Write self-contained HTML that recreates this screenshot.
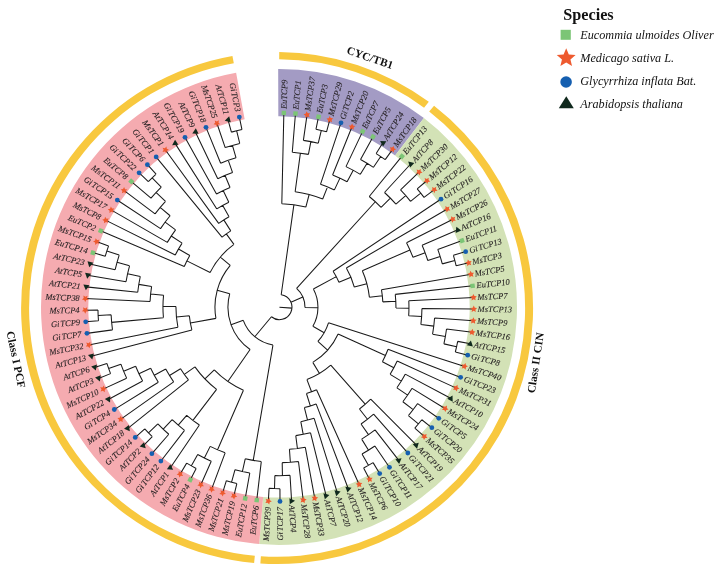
<!DOCTYPE html>
<html><head><meta charset="utf-8"><title>TCP phylogenetic tree</title>
<style>
html,body{margin:0;padding:0;background:#fff;}
body{width:720px;height:572px;overflow:hidden;}
svg{display:block;}
</style></head>
<body>
<svg width="720" height="572" viewBox="0 0 720 572">
<rect width="720" height="572" fill="#fff"/>
<path d="M278.17,68.90A238.0,238.0 0 0 1 423.89,118.08L395.09,155.61A190.7,190.7 0 0 0 278.33,116.20Z" fill="#a39bc4"/>
<path d="M423.89,118.08A238.0,238.0 0 0 1 259.21,544.08L263.14,496.94A190.7,190.7 0 0 0 395.09,155.61Z" fill="#d3e2b6"/>
<path d="M259.21,544.08A238.0,238.0 0 0 1 236.12,72.80L244.64,119.32A190.7,190.7 0 0 0 263.14,496.94Z" fill="#f5abb0"/>
<path d="M279.24,52.06A256.0,256.0 0 0 1 428.80,101.84L424.06,107.72A248.0,248.7 0 0 0 279.18,59.36Z" fill="#f8c83e"/>
<path d="M434.07,105.83A256.0,256.0 0 0 1 260.36,563.50L260.88,556.22A248.0,248.7 0 0 0 429.17,111.59Z" fill="#f8c83e"/>
<path d="M254.12,563.02A256.0,256.0 0 0 1 232.43,55.98L233.82,63.17A248.0,248.7 0 0 0 254.84,555.75Z" fill="#f8c83e"/>
<path d="M281.20,294.77A12.50,12.50 0 1 1 271.44,316.75M281.20,294.77L293.91,204.67M281.80,203.68A103.50,103.50 0 0 1 305.83,207.07M281.80,203.68L283.86,112.70M305.83,207.07L309.14,194.50M295.14,191.71A116.50,116.50 0 0 1 322.70,198.98M295.14,191.71L300.39,153.07M292.28,152.18A155.50,155.50 0 0 1 308.43,154.37M292.28,152.18L295.50,113.31M308.43,154.37L310.86,141.60M303.39,140.36A168.50,168.50 0 0 1 318.26,143.18M303.39,140.36L307.08,114.62M318.26,143.18L321.26,130.53M315.95,129.36A181.50,181.50 0 0 1 326.53,131.86M315.95,129.36L318.56,116.62M326.53,131.86L329.90,119.31M322.70,198.98L327.53,186.91M320.47,184.32A129.50,129.50 0 0 1 334.42,189.90M320.47,184.32L341.06,122.67M334.42,189.90L339.94,178.13M332.60,174.93A142.50,142.50 0 0 1 347.09,181.73M332.60,174.93L352.00,126.69M347.09,181.73L353.26,170.29M345.99,166.61A155.50,155.50 0 0 1 360.34,174.34M345.99,166.61L362.68,131.36M360.34,174.34L367.10,163.24M360.54,159.45A168.50,168.50 0 0 1 373.47,167.32M360.54,159.45L373.06,136.66M373.47,167.32L380.73,156.54M376.17,153.57A181.50,181.50 0 0 1 385.20,159.64M376.17,153.57L383.10,142.57M385.20,159.64L392.77,149.07M290.92,302.17L302.84,296.99M296.61,288.29A25.50,25.50 0 0 1 304.95,307.49M296.61,288.29L375.33,201.73M369.26,196.51A142.50,142.50 0 0 1 381.10,207.28M369.26,196.51L402.03,156.14M381.10,207.28L390.37,198.17M384.51,192.51A155.50,155.50 0 0 1 395.93,204.13M384.51,192.51L410.86,163.75M395.93,204.13L405.67,195.52M400.53,189.96A168.50,168.50 0 0 1 410.56,201.31M400.53,189.96L419.21,171.88M410.56,201.31L420.67,193.14M417.19,188.96A181.50,181.50 0 0 1 424.02,197.42M417.19,188.96L427.06,180.49M424.02,197.42L434.38,189.56M304.95,307.49L317.95,307.66M313.38,288.95A38.50,38.50 0 0 1 312.88,326.24M313.38,288.95L336.29,276.66M333.07,271.30A64.50,64.50 0 0 1 338.97,282.29M333.07,271.30L441.14,199.05M338.97,282.29L350.96,277.29M346.34,268.01A77.50,77.50 0 0 1 354.31,287.09M346.34,268.01L447.33,208.93M354.31,287.09L366.87,283.73M362.33,270.81A90.50,90.50 0 0 1 369.40,297.18M362.33,270.81L409.95,249.92M406.53,242.68A142.50,142.50 0 0 1 412.96,257.34M406.53,242.68L452.91,219.16M412.96,257.34L425.14,252.80M422.09,245.24A155.50,155.50 0 0 1 427.79,260.51M422.09,245.24L457.87,229.71M427.79,260.51L440.19,256.61M437.76,249.44A168.50,168.50 0 0 1 442.30,263.88M437.76,249.44L462.19,240.53M442.30,263.88L454.86,260.54M453.39,255.31A181.50,181.50 0 0 1 456.18,265.82M453.39,255.31L465.85,251.59M456.18,265.82L468.84,262.86M369.40,297.18L382.32,295.75M381.46,289.66A103.50,103.50 0 0 1 382.82,301.88M381.46,289.66L471.15,274.28M382.82,301.88L395.80,301.22M395.25,294.37A116.50,116.50 0 0 1 395.95,308.09M395.25,294.37L472.78,285.82M395.95,308.09L408.95,308.20M408.79,300.68A129.50,129.50 0 0 1 408.67,315.71M408.79,300.68L473.71,297.44M408.67,315.71L421.64,316.57M421.94,308.57A142.50,142.50 0 0 1 420.89,324.54M421.94,308.57L473.94,309.09M420.89,324.54L433.79,326.12M434.57,318.01A155.50,155.50 0 0 1 432.58,334.19M434.57,318.01L473.48,320.73M432.58,334.19L445.38,336.45M446.53,328.96A168.50,168.50 0 0 1 443.90,343.87M446.53,328.96L472.31,332.33M443.90,343.87L456.59,346.71M457.69,341.38A181.50,181.50 0 0 1 455.32,352.00M457.69,341.38L470.46,343.83M455.32,352.00L467.92,355.21M312.88,326.24L324.17,332.69M328.50,322.84A51.50,51.50 0 0 1 317.89,341.42M328.50,322.84L464.70,366.41M317.89,341.42L327.60,350.07M338.12,333.95A64.50,64.50 0 0 1 312.79,362.37M338.12,333.95L385.42,355.56M388.09,349.23A116.50,116.50 0 0 1 382.38,361.72M388.09,349.23L460.82,377.40M382.38,361.72L393.86,367.81M397.19,361.07A129.50,129.50 0 0 1 390.15,374.35M397.19,361.07L456.29,388.13M390.15,374.35L401.26,381.09M405.22,374.14A142.50,142.50 0 0 1 396.92,387.82M405.22,374.14L451.12,398.58M396.92,387.82L407.64,395.17M412.07,388.33A155.50,155.50 0 0 1 402.85,401.77M412.07,388.33L445.34,408.70M402.85,401.77L413.16,409.68M417.64,403.57A168.50,168.50 0 0 1 408.42,415.59M417.64,403.57L438.96,418.45M408.42,415.59L418.37,423.95M421.81,419.74A181.50,181.50 0 0 1 414.81,428.06M421.81,419.74L432.01,427.80M414.81,428.06L424.51,436.72M312.79,362.37L319.50,373.50M330.77,365.22A77.50,77.50 0 0 1 306.94,379.61M330.77,365.22L365.20,404.19M370.69,399.05A129.50,129.50 0 0 1 359.43,409.00M370.69,399.05L416.49,445.18M359.43,409.00L367.46,419.23M373.61,414.11A142.50,142.50 0 0 1 361.03,423.99M373.61,414.11L407.97,453.14M361.03,423.99L368.47,434.65M375.03,429.81A155.50,155.50 0 0 1 361.66,439.14M375.03,429.81L399.00,460.57M361.66,439.14L368.54,450.17M374.87,446.03A168.50,168.50 0 0 1 362.02,454.03M374.87,446.03L389.60,467.46M362.02,454.03L368.39,465.36M373.09,462.63A181.50,181.50 0 0 1 363.61,467.96M373.09,462.63L379.80,473.76M363.61,467.96L369.64,479.48M306.94,379.61L311.55,391.77M316.54,389.70A90.50,90.50 0 0 1 306.44,393.53M316.54,389.70L359.16,484.57M306.44,393.53L310.32,405.94M316.13,403.93A103.50,103.50 0 0 1 304.39,407.60M316.13,403.93L348.39,489.02M304.39,407.60L307.53,420.22M314.14,418.36A116.50,116.50 0 0 1 300.81,421.67M314.14,418.36L337.37,492.83M300.81,421.67L303.20,434.45M310.54,432.86A129.50,129.50 0 0 1 295.77,435.62M310.54,432.86L326.15,495.96M295.77,435.62L297.41,448.51M305.32,447.28A142.50,142.50 0 0 1 289.44,449.30M305.32,447.28L314.76,498.42M289.44,449.30L290.35,462.27M298.47,461.48A155.50,155.50 0 0 1 282.21,462.63M298.47,461.48L303.24,500.19M282.21,462.63L282.44,475.62M290.01,475.32A168.50,168.50 0 0 1 274.87,475.59M290.01,475.32L291.63,501.27M274.87,475.59L274.51,488.58M279.95,488.65A181.50,181.50 0 0 1 269.08,488.35M279.95,488.65L279.99,501.65M269.08,488.35L268.34,501.33M271.44,316.75L254.79,336.72M272.95,345.10A38.50,38.50 0 0 1 243.28,320.35M272.95,345.10L253.21,460.42M261.28,461.59A155.50,155.50 0 0 1 245.22,458.84M261.28,461.59L256.73,500.32M245.22,458.84L242.36,471.52M249.78,473.02A168.50,168.50 0 0 1 235.01,469.68M249.78,473.02L245.20,498.61M235.01,469.68L231.58,482.22M236.85,483.58A181.50,181.50 0 0 1 226.36,480.71M236.85,483.58L233.79,496.22M226.36,480.71L222.55,493.14M243.28,320.35L231.07,324.81M250.09,349.46A51.50,51.50 0 0 1 229.74,293.70M250.09,349.46L227.86,381.51M243.44,390.18A90.50,90.50 0 0 1 214.28,369.95M243.44,390.18L217.58,449.81M225.14,452.86A155.50,155.50 0 0 1 210.18,446.37M225.14,452.86L211.52,489.40M210.18,446.37L204.39,458.01M211.25,461.23A168.50,168.50 0 0 1 197.69,454.49M211.25,461.23L200.72,485.00M197.69,454.49L191.38,465.85M196.18,468.42A181.50,181.50 0 0 1 186.67,463.14M196.18,468.42L190.21,479.97M186.67,463.14L180.02,474.32M214.28,369.95L204.92,378.97M216.59,389.38A103.50,103.50 0 0 1 194.95,366.92M216.59,389.38L192.91,420.36M199.40,425.04A142.50,142.50 0 0 1 186.69,415.32M199.40,425.04L170.19,468.06M186.69,415.32L178.22,425.19M184.55,430.33A155.50,155.50 0 0 1 172.18,419.72M184.55,430.33L160.75,461.23M172.18,419.72L163.21,429.13M168.81,434.23A168.50,168.50 0 0 1 157.85,423.79M168.81,434.23L151.73,453.84M157.85,423.79L148.46,432.79M152.29,436.65A181.50,181.50 0 0 1 144.76,428.81M152.29,436.65L143.18,445.93M144.76,428.81L135.11,437.52M194.95,366.92L184.34,374.43M188.47,379.92A116.50,116.50 0 0 1 180.54,368.71M188.47,379.92L127.56,428.64M180.54,368.71L169.50,375.57M173.66,381.84A129.50,129.50 0 0 1 165.72,369.08M173.66,381.84L120.56,419.33M165.72,369.08L154.30,375.30M158.33,382.22A142.50,142.50 0 0 1 150.67,368.16M158.33,382.22L114.13,409.61M150.67,368.16L138.92,373.73M142.61,381.00A155.50,155.50 0 0 1 135.63,366.27M142.61,381.00L108.29,399.52M135.63,366.27L123.60,371.21M126.64,378.15A168.50,168.50 0 0 1 120.88,364.15M126.64,378.15L103.06,389.11M120.88,364.15L108.65,368.55M110.57,373.63A181.50,181.50 0 0 1 106.89,363.40M110.57,373.63L98.47,378.40M106.89,363.40L94.53,367.43M229.74,293.70L217.19,290.31M215.93,318.37A64.50,64.50 0 0 1 230.25,265.44M215.93,318.37L190.33,322.90M191.88,329.99A90.50,90.50 0 0 1 189.35,315.70M191.88,329.99L91.25,356.25M189.35,315.70L176.41,316.93M177.92,327.23A103.50,103.50 0 0 1 175.95,306.52M177.92,327.23L88.65,344.89M175.95,306.52L162.95,306.44M163.43,317.67A116.50,116.50 0 0 1 163.56,295.23M163.43,317.67L111.64,322.36M112.49,329.88A168.50,168.50 0 0 1 111.12,314.80M112.49,329.88L86.73,333.39M111.12,314.80L98.14,315.40M98.47,320.82A181.50,181.50 0 0 1 97.97,309.96M98.47,320.82L85.50,321.80M97.97,309.96L84.97,310.16M163.56,295.23L150.63,293.90M150.08,301.40A129.50,129.50 0 0 1 151.62,286.45M150.08,301.40L85.14,298.51M151.62,286.45L138.78,284.37M137.73,292.30A142.50,142.50 0 0 1 140.28,276.51M137.73,292.30L86.01,286.89M140.28,276.51L127.59,273.71M126.04,281.72A155.50,155.50 0 0 1 129.55,265.80M126.04,281.72L87.57,275.34M129.55,265.80L117.02,262.34M115.17,269.68A168.50,168.50 0 0 1 119.19,255.09M115.17,269.68L89.82,263.90M119.19,255.09L106.83,251.07M105.23,256.27A181.50,181.50 0 0 1 108.59,245.93M105.23,256.27L92.75,252.62M108.59,245.93L96.35,241.54M230.25,265.44L220.34,257.03M210.13,272.50A77.50,77.50 0 0 1 233.94,244.42M210.13,272.50L186.87,260.88M184.28,266.46A103.50,103.50 0 0 1 189.78,255.46M184.28,266.46L100.61,230.69M189.78,255.46L178.52,248.97M175.26,255.02A116.50,116.50 0 0 1 182.12,243.12M175.26,255.02L105.51,220.12M182.12,243.12L171.26,235.97M167.32,242.37A129.50,129.50 0 0 1 175.58,229.82M167.32,242.37L111.03,209.86M175.58,229.82L165.15,222.05M160.55,228.61A142.50,142.50 0 0 1 170.11,215.77M160.55,228.61L117.16,199.95M170.11,215.77L160.13,207.43M155.07,213.82A155.50,155.50 0 0 1 165.52,201.32M155.07,213.82L123.87,190.42M165.52,201.32L156.00,192.47M150.97,198.13A168.50,168.50 0 0 1 161.27,187.04M150.97,198.13L131.14,181.31M161.27,187.04L152.16,177.77M148.34,181.64A181.50,181.50 0 0 1 156.09,174.02M148.34,181.64L138.95,172.65M156.09,174.02L147.25,164.48M233.94,244.42L226.30,233.90M222.03,237.20A90.50,90.50 0 0 1 230.77,230.86M222.03,237.20L156.04,156.82M230.77,230.86L223.77,219.90M218.69,223.36A103.50,103.50 0 0 1 229.05,216.75M218.69,223.36L165.26,149.70M229.05,216.75L222.73,205.39M216.82,208.91A116.50,116.50 0 0 1 228.82,202.23M216.82,208.91L174.90,143.14M228.82,202.23L223.17,190.52M216.50,193.98A129.50,129.50 0 0 1 230.04,187.45M216.50,193.98L184.91,137.17M230.04,187.45L225.07,175.43M217.76,178.69A142.50,142.50 0 0 1 232.56,172.59M217.76,178.69L195.25,131.82M232.56,172.59L228.28,160.31M220.65,163.19A155.50,155.50 0 0 1 236.05,157.83M220.65,163.19L205.91,127.09M236.05,157.83L232.42,145.35M225.19,147.62A168.50,168.50 0 0 1 239.73,143.40M225.19,147.62L216.82,123.01M239.73,143.40L236.67,130.76M231.40,132.12A181.50,181.50 0 0 1 241.97,129.56M231.40,132.12L227.96,119.59M241.97,129.56L239.29,116.84M279.45,307.15L291.91,308.13" fill="none" stroke="#1a1a1a" stroke-width="1.05"/>
<rect x="-2.20" y="-2.20" width="4.4" height="4.4" fill="#7cc576" transform="translate(283.86,112.90) rotate(1.3)"/>
<rect x="-2.20" y="-2.20" width="4.4" height="4.4" fill="#7cc576" transform="translate(295.48,113.51) rotate(4.7)"/>
<path d="M303.59,114.32L305.80,113.60L306.45,111.37L307.82,113.25L310.15,113.19L308.78,115.07L309.56,117.26L307.35,116.54L305.51,117.96L305.50,115.64Z" fill="#ee5a2f"/>
<rect x="-2.20" y="-2.20" width="4.4" height="4.4" fill="#7cc576" transform="translate(318.52,116.82) rotate(11.6)"/>
<path d="M326.47,118.59L328.75,118.14L329.67,116.01L330.80,118.03L333.12,118.25L331.54,119.95L332.05,122.22L329.94,121.25L327.94,122.43L328.22,120.13Z" fill="#ee5a2f"/>
<circle cx="341.00" cy="122.86" r="2.4" fill="#155fb0"/>
<path d="M348.68,125.57L350.99,125.39L352.16,123.38L353.05,125.53L355.32,126.02L353.55,127.53L353.78,129.84L351.81,128.62L349.68,129.56L350.23,127.30Z" fill="#ee5a2f"/>
<rect x="-2.20" y="-2.20" width="4.4" height="4.4" fill="#7cc576" transform="translate(362.59,131.54) rotate(25.3)"/>
<rect x="-2.20" y="-2.20" width="4.4" height="4.4" fill="#7cc576" transform="translate(372.96,136.83) rotate(28.8)"/>
<path d="M0,-3.40L3.06,2.04L-3.06,2.04Z" fill="#10291d" transform="translate(382.99,142.74) rotate(-57.8)"/>
<path d="M389.81,147.19L392.10,147.57L393.71,145.90L394.06,148.20L396.15,149.21L394.08,150.25L393.76,152.56L392.12,150.90L389.83,151.31L390.90,149.24Z" fill="#ee5a2f"/>
<rect x="-2.20" y="-2.20" width="4.4" height="4.4" fill="#7cc576" transform="translate(401.91,156.30) rotate(39.1)"/>
<path d="M0,-3.40L3.06,2.04L-3.06,2.04Z" fill="#10291d" transform="translate(410.72,163.90) rotate(-47.5)"/>
<path d="M416.63,169.51L418.82,170.29L420.71,168.93L420.64,171.25L422.51,172.62L420.28,173.28L419.56,175.49L418.25,173.57L415.92,173.56L417.34,171.72Z" fill="#ee5a2f"/>
<path d="M424.63,177.97L426.77,178.88L428.73,177.64L428.52,179.95L430.31,181.43L428.05,181.95L427.19,184.11L426.00,182.12L423.68,181.97L425.21,180.22Z" fill="#ee5a2f"/>
<path d="M432.10,186.90L434.18,187.93L436.22,186.81L435.87,189.11L437.57,190.69L435.28,191.08L434.29,193.18L433.22,191.12L430.92,190.83L432.55,189.18Z" fill="#ee5a2f"/>
<circle cx="440.98" cy="199.16" r="2.4" fill="#155fb0"/>
<path d="M445.39,206.01L447.33,207.29L449.48,206.42L448.87,208.66L450.36,210.44L448.04,210.54L446.81,212.51L445.99,210.34L443.74,209.78L445.55,208.33Z" fill="#ee5a2f"/>
<path d="M451.15,216.13L453.01,217.52L455.21,216.78L454.46,218.98L455.85,220.85L453.52,220.81L452.18,222.71L451.49,220.49L449.27,219.79L451.17,218.45Z" fill="#ee5a2f"/>
<path d="M0,-3.40L3.06,2.04L-3.06,2.04Z" fill="#10291d" transform="translate(457.68,229.79) rotate(-23.5)"/>
<rect x="-2.20" y="-2.20" width="4.4" height="4.4" fill="#7cc576" transform="translate(462.00,240.60) rotate(70.0)"/>
<circle cx="465.66" cy="251.65" r="2.4" fill="#155fb0"/>
<path d="M467.85,259.50L469.32,261.29L471.64,261.09L470.39,263.05L471.29,265.19L469.04,264.61L467.29,266.13L467.15,263.81L465.16,262.61L467.32,261.76Z" fill="#ee5a2f"/>
<path d="M470.36,270.86L471.73,272.74L474.05,272.69L472.69,274.57L473.46,276.76L471.25,276.04L469.41,277.45L469.41,275.13L467.49,273.81L469.70,273.09Z" fill="#ee5a2f"/>
<rect x="-2.20" y="-2.20" width="4.4" height="4.4" fill="#7cc576" transform="translate(472.58,285.84) rotate(83.7)"/>
<path d="M473.33,293.95L474.46,295.98L476.78,296.20L475.20,297.90L475.70,300.17L473.59,299.19L471.59,300.38L471.87,298.07L470.13,296.53L472.41,296.08Z" fill="#ee5a2f"/>
<path d="M473.78,305.59L474.78,307.68L477.08,308.04L475.40,309.64L475.77,311.94L473.72,310.84L471.65,311.90L472.07,309.61L470.42,307.97L472.73,307.66Z" fill="#ee5a2f"/>
<path d="M473.52,317.23L474.40,319.38L476.67,319.87L474.90,321.37L475.13,323.69L473.15,322.46L471.03,323.40L471.58,321.14L470.03,319.41L472.35,319.23Z" fill="#ee5a2f"/>
<path d="M472.57,328.83L473.32,331.03L475.56,331.66L473.70,333.05L473.79,335.38L471.89,334.04L469.71,334.84L470.39,332.62L468.95,330.80L471.28,330.77Z" fill="#ee5a2f"/>
<path d="M0,-3.40L3.06,2.04L-3.06,2.04Z" fill="#10291d" transform="translate(470.26,343.80) rotate(10.9)"/>
<circle cx="467.73" cy="355.16" r="2.4" fill="#155fb0"/>
<path d="M465.58,363.01L465.92,365.31L468.01,366.33L465.93,367.37L465.61,369.67L463.98,368.01L461.69,368.42L462.76,366.36L461.67,364.30L463.96,364.69Z" fill="#ee5a2f"/>
<circle cx="460.63" cy="377.33" r="2.4" fill="#155fb0"/>
<path d="M457.56,384.87L457.63,387.19L459.58,388.45L457.39,389.23L456.80,391.48L455.38,389.64L453.06,389.77L454.37,387.85L453.53,385.68L455.76,386.33Z" fill="#ee5a2f"/>
<path d="M0,-3.40L3.06,2.04L-3.06,2.04Z" fill="#10291d" transform="translate(450.94,398.49) rotate(28.0)"/>
<path d="M446.99,405.61L446.78,407.92L448.57,409.41L446.30,409.92L445.44,412.08L444.25,410.08L441.93,409.93L443.46,408.18L442.89,405.93L445.03,406.85Z" fill="#ee5a2f"/>
<circle cx="438.79" cy="418.33" r="2.4" fill="#155fb0"/>
<circle cx="431.85" cy="427.68" r="2.4" fill="#155fb0"/>
<path d="M426.69,433.98L426.07,436.22L427.56,438.00L425.24,438.10L424.00,440.07L423.19,437.89L420.94,437.33L422.76,435.88L422.60,433.56L424.53,434.85Z" fill="#ee5a2f"/>
<path d="M0,-3.40L3.06,2.04L-3.06,2.04Z" fill="#10291d" transform="translate(416.34,445.04) rotate(45.2)"/>
<circle cx="407.84" cy="452.99" r="2.4" fill="#155fb0"/>
<path d="M0,-3.40L3.06,2.04L-3.06,2.04Z" fill="#10291d" transform="translate(398.88,460.41) rotate(52.1)"/>
<circle cx="389.48" cy="467.29" r="2.4" fill="#155fb0"/>
<circle cx="379.69" cy="473.59" r="2.4" fill="#155fb0"/>
<path d="M372.65,477.68L371.28,479.55L372.05,481.75L369.84,481.02L367.99,482.43L368.00,480.11L366.08,478.79L368.30,478.07L368.96,475.85L370.32,477.73Z" fill="#ee5a2f"/>
<path d="M362.27,482.95L360.79,484.74L361.43,486.98L359.26,486.13L357.34,487.42L357.48,485.10L355.65,483.67L357.90,483.09L358.70,480.91L359.94,482.87Z" fill="#ee5a2f"/>
<path d="M0,-3.40L3.06,2.04L-3.06,2.04Z" fill="#10291d" transform="translate(348.32,488.84) rotate(69.2)"/>
<path d="M0,-3.40L3.06,2.04L-3.06,2.04Z" fill="#10291d" transform="translate(337.31,492.63) rotate(72.7)"/>
<path d="M0,-3.40L3.06,2.04L-3.06,2.04Z" fill="#10291d" transform="translate(326.10,495.77) rotate(76.1)"/>
<path d="M318.16,497.59L316.30,498.98L316.39,501.30L314.49,499.96L312.31,500.76L313.00,498.54L311.56,496.71L313.89,496.68L315.18,494.75L315.93,496.95Z" fill="#ee5a2f"/>
<path d="M306.69,499.56L304.74,500.84L304.69,503.16L302.88,501.71L300.65,502.38L301.48,500.21L300.15,498.30L302.47,498.41L303.88,496.56L304.49,498.80Z" fill="#ee5a2f"/>
<path d="M0,-3.40L3.06,2.04L-3.06,2.04Z" fill="#10291d" transform="translate(291.62,501.07) rotate(86.4)"/>
<circle cx="279.99" cy="501.45" r="2.4" fill="#155fb0"/>
<path d="M271.84,501.33L269.70,502.24L269.24,504.52L267.71,502.76L265.40,503.02L266.60,501.03L265.64,498.92L267.90,499.44L269.62,497.87L269.82,500.19Z" fill="#ee5a2f"/>
<rect x="-2.20" y="-2.20" width="4.4" height="4.4" fill="#7cc576" transform="translate(256.75,500.12) rotate(186.7)"/>
<rect x="-2.20" y="-2.20" width="4.4" height="4.4" fill="#7cc576" transform="translate(245.23,498.41) rotate(190.1)"/>
<path d="M237.24,496.84L234.98,497.35L234.11,499.51L232.92,497.51L230.61,497.36L232.14,495.61L231.57,493.36L233.71,494.28L235.67,493.04L235.46,495.35Z" fill="#ee5a2f"/>
<path d="M225.96,493.97L223.66,494.35L222.67,496.45L221.61,494.38L219.30,494.09L220.94,492.44L220.51,490.16L222.58,491.20L224.62,490.08L224.27,492.38Z" fill="#ee5a2f"/>
<path d="M214.87,490.44L212.55,490.67L211.44,492.71L210.50,490.58L208.21,490.15L209.95,488.60L209.65,486.30L211.66,487.46L213.76,486.47L213.27,488.74Z" fill="#ee5a2f"/>
<path d="M204.00,486.24L201.68,486.34L200.45,488.30L199.64,486.12L197.38,485.56L199.20,484.11L199.05,481.79L200.98,483.08L203.14,482.22L202.51,484.45Z" fill="#ee5a2f"/>
<rect x="-2.20" y="-2.20" width="4.4" height="4.4" fill="#7cc576" transform="translate(190.30,479.79) rotate(207.3)"/>
<path d="M183.13,475.93L180.82,475.75L179.35,477.56L178.81,475.30L176.64,474.46L178.62,473.25L178.74,470.93L180.51,472.44L182.76,471.84L181.87,473.98Z" fill="#ee5a2f"/>
<path d="M0,-3.40L3.06,2.04L-3.06,2.04Z" fill="#10291d" transform="translate(170.30,467.90) rotate(124.2)"/>
<circle cx="160.87" cy="461.07" r="2.4" fill="#155fb0"/>
<circle cx="151.87" cy="453.69" r="2.4" fill="#155fb0"/>
<path d="M0,-3.40L3.06,2.04L-3.06,2.04Z" fill="#10291d" transform="translate(143.32,445.79) rotate(134.5)"/>
<circle cx="135.26" cy="437.39" r="2.4" fill="#155fb0"/>
<path d="M0,-3.40L3.06,2.04L-3.06,2.04Z" fill="#10291d" transform="translate(127.72,428.52) rotate(141.3)"/>
<path d="M122.74,422.07L120.70,420.96L118.63,422.02L119.05,419.73L117.41,418.09L119.71,417.78L120.77,415.71L121.77,417.81L124.06,418.18L122.38,419.78Z" fill="#ee5a2f"/>
<circle cx="114.30" cy="409.50" r="2.4" fill="#155fb0"/>
<path d="M0,-3.40L3.06,2.04L-3.06,2.04Z" fill="#10291d" transform="translate(108.46,399.43) rotate(151.6)"/>
<path d="M104.72,392.20L102.91,390.74L100.68,391.41L101.50,389.23L100.18,387.32L102.50,387.44L103.91,385.59L104.52,387.83L106.72,388.60L104.77,389.87Z" fill="#ee5a2f"/>
<path d="M0,-3.40L3.06,2.04L-3.06,2.04Z" fill="#10291d" transform="translate(98.65,378.32) rotate(158.5)"/>
<path d="M0,-3.40L3.06,2.04L-3.06,2.04Z" fill="#10291d" transform="translate(94.72,367.37) rotate(161.9)"/>
<path d="M0,-3.40L3.06,2.04L-3.06,2.04Z" fill="#10291d" transform="translate(91.44,356.20) rotate(165.4)"/>
<path d="M89.52,348.28L88.11,346.44L85.79,346.55L87.10,344.64L86.27,342.47L88.50,343.13L90.31,341.67L90.37,343.99L92.32,345.26L90.13,346.04Z" fill="#ee5a2f"/>
<circle cx="86.93" cy="333.36" r="2.4" fill="#155fb0"/>
<circle cx="85.70" cy="321.79" r="2.4" fill="#155fb0"/>
<path d="M85.23,313.66L84.17,311.59L81.86,311.29L83.50,309.64L83.07,307.36L85.15,308.41L87.19,307.29L86.83,309.59L88.52,311.19L86.22,311.56Z" fill="#ee5a2f"/>
<path d="M85.19,302.01L84.25,299.89L81.97,299.45L83.70,297.90L83.41,295.60L85.42,296.77L87.52,295.78L87.03,298.05L88.62,299.75L86.31,299.98Z" fill="#ee5a2f"/>
<path d="M0,-3.40L3.06,2.04L-3.06,2.04Z" fill="#10291d" transform="translate(86.21,286.91) rotate(186.0)"/>
<path d="M0,-3.40L3.06,2.04L-3.06,2.04Z" fill="#10291d" transform="translate(87.77,275.37) rotate(189.4)"/>
<path d="M0,-3.40L3.06,2.04L-3.06,2.04Z" fill="#10291d" transform="translate(90.01,263.95) rotate(192.8)"/>
<rect x="-2.20" y="-2.20" width="4.4" height="4.4" fill="#7cc576" transform="translate(92.94,252.68) rotate(286.3)"/>
<path d="M95.36,244.90L95.09,242.59L93.04,241.50L95.15,240.54L95.56,238.25L97.13,239.96L99.43,239.64L98.29,241.66L99.31,243.75L97.03,243.29Z" fill="#ee5a2f"/>
<rect x="-2.20" y="-2.20" width="4.4" height="4.4" fill="#7cc576" transform="translate(100.79,230.77) rotate(293.1)"/>
<path d="M104.12,223.34L104.13,221.01L102.23,219.69L104.44,218.98L105.11,216.76L106.47,218.64L108.79,218.60L107.42,220.47L108.18,222.66L105.97,221.93Z" fill="#ee5a2f"/>
<path d="M109.46,212.99L109.61,210.67L107.78,209.23L110.04,208.66L110.84,206.48L112.08,208.44L114.40,208.53L112.92,210.32L113.55,212.56L111.39,211.70Z" fill="#ee5a2f"/>
<circle cx="117.33" cy="200.06" r="2.4" fill="#155fb0"/>
<path d="M121.93,193.34L122.36,191.05L120.72,189.41L123.03,189.11L124.09,187.04L125.08,189.14L127.38,189.51L125.69,191.10L126.05,193.40L124.01,192.29Z" fill="#ee5a2f"/>
<rect x="-2.20" y="-2.20" width="4.4" height="4.4" fill="#7cc576" transform="translate(131.30,181.44) rotate(310.3)"/>
<circle cx="139.09" cy="172.79" r="2.4" fill="#155fb0"/>
<circle cx="147.39" cy="164.63" r="2.4" fill="#155fb0"/>
<circle cx="156.16" cy="156.97" r="2.4" fill="#155fb0"/>
<path d="M162.54,151.92L163.63,149.86L162.55,147.80L164.84,148.20L166.46,146.53L166.79,148.83L168.88,149.86L166.79,150.89L166.46,153.19L164.84,151.52Z" fill="#ee5a2f"/>
<path d="M0,-3.40L3.06,2.04L-3.06,2.04Z" fill="#10291d" transform="translate(175.00,143.31) rotate(237.5)"/>
<circle cx="185.00" cy="137.35" r="2.4" fill="#155fb0"/>
<path d="M0,-3.40L3.06,2.04L-3.06,2.04Z" fill="#10291d" transform="translate(195.34,132.00) rotate(244.3)"/>
<circle cx="205.98" cy="127.28" r="2.4" fill="#155fb0"/>
<path d="M213.57,124.32L215.22,122.68L214.79,120.39L216.86,121.45L218.91,120.34L218.54,122.63L220.23,124.23L217.93,124.60L216.93,126.70L215.88,124.63Z" fill="#ee5a2f"/>
<path d="M0,-3.40L3.06,2.04L-3.06,2.04Z" fill="#10291d" transform="translate(228.02,119.78) rotate(254.7)"/>
<circle cx="239.33" cy="117.04" r="2.4" fill="#155fb0"/>
<g font-family="'Liberation Serif', serif" font-style="italic" font-size="8.5" fill="#231f20" stroke="#231f20" stroke-width="0.1"><text x="283.95" y="109.00" transform="rotate(-88.70 283.95 109.00)" text-anchor="start" dy="0.33em">EuTCP9</text><text x="295.81" y="109.63" transform="rotate(-85.27 295.81 109.63)" text-anchor="start" dy="0.33em">EuTCP1</text><text x="307.61" y="110.96" transform="rotate(-81.83 307.61 110.96)" text-anchor="start" dy="0.33em">MsTCP37</text><text x="319.31" y="113.00" transform="rotate(-78.40 319.31 113.00)" text-anchor="start" dy="0.33em">EuTCP3</text><text x="330.86" y="115.73" transform="rotate(-74.97 330.86 115.73)" text-anchor="start" dy="0.33em">MsTCP29</text><text x="342.23" y="119.16" transform="rotate(-71.53 342.23 119.16)" text-anchor="start" dy="0.33em">Gi<tspan dx="0.9">TCP2</tspan></text><text x="353.38" y="123.25" transform="rotate(-68.10 353.38 123.25)" text-anchor="start" dy="0.33em">MsTCP20</text><text x="364.26" y="128.01" transform="rotate(-64.67 364.26 128.01)" text-anchor="start" dy="0.33em">EuTCP7</text><text x="374.84" y="133.41" transform="rotate(-61.23 374.84 133.41)" text-anchor="start" dy="0.33em">EuTCP5</text><text x="385.07" y="139.44" transform="rotate(-57.80 385.07 139.44)" text-anchor="start" dy="0.33em">AtTCP24</text><text x="394.93" y="146.06" transform="rotate(-54.37 394.93 146.06)" text-anchor="start" dy="0.33em">MsTCP18</text><text x="404.37" y="153.27" transform="rotate(-50.93 404.37 153.27)" text-anchor="start" dy="0.33em">EuTCP13</text><text x="413.36" y="161.03" transform="rotate(-47.50 413.36 161.03)" text-anchor="start" dy="0.33em">AtTCP8</text><text x="421.87" y="169.31" transform="rotate(-44.06 421.87 169.31)" text-anchor="start" dy="0.33em">MsTCP30</text><text x="429.87" y="178.09" transform="rotate(-40.63 429.87 178.09)" text-anchor="start" dy="0.33em">MsTCP12</text><text x="437.33" y="187.33" transform="rotate(-37.20 437.33 187.33)" text-anchor="start" dy="0.33em">MsTCP22</text><text x="444.22" y="197.00" transform="rotate(-33.76 444.22 197.00)" text-anchor="start" dy="0.33em">Gi<tspan dx="0.9">TCP16</tspan></text><text x="450.52" y="207.06" transform="rotate(-30.33 450.52 207.06)" text-anchor="start" dy="0.33em">MsTCP27</text><text x="456.21" y="217.49" transform="rotate(-26.90 456.21 217.49)" text-anchor="start" dy="0.33em">MsTCP26</text><text x="461.26" y="228.23" transform="rotate(-23.46 461.26 228.23)" text-anchor="start" dy="0.33em">AtTCP16</text><text x="465.66" y="239.26" transform="rotate(-20.03 465.66 239.26)" text-anchor="start" dy="0.33em">EuTCP11</text><text x="469.39" y="250.54" transform="rotate(-16.60 469.39 250.54)" text-anchor="start" dy="0.33em">Gi<tspan dx="0.9">TCP13</tspan></text><text x="472.44" y="262.02" transform="rotate(-13.16 472.44 262.02)" text-anchor="start" dy="0.33em">MsTCP3</text><text x="474.80" y="273.65" transform="rotate(-9.73 474.80 273.65)" text-anchor="start" dy="0.33em">MsTCP5</text><text x="476.45" y="285.41" transform="rotate(-6.30 476.45 285.41)" text-anchor="start" dy="0.33em">EuTCP10</text><text x="477.40" y="297.25" transform="rotate(-2.86 477.40 297.25)" text-anchor="start" dy="0.33em">MsTCP7</text><text x="477.64" y="309.13" transform="rotate(0.57 477.64 309.13)" text-anchor="start" dy="0.33em">MsTCP13</text><text x="477.17" y="320.99" transform="rotate(4.00 477.17 320.99)" text-anchor="start" dy="0.33em">MsTCP9</text><text x="475.98" y="332.81" transform="rotate(7.44 475.98 332.81)" text-anchor="start" dy="0.33em">MsTCP16</text><text x="474.09" y="344.53" transform="rotate(10.87 474.09 344.53)" text-anchor="start" dy="0.33em">AtTCP15</text><text x="471.50" y="356.12" transform="rotate(14.30 471.50 356.12)" text-anchor="start" dy="0.33em">Gi<tspan dx="0.9">TCP8</tspan></text><text x="468.23" y="367.54" transform="rotate(17.74 468.23 367.54)" text-anchor="start" dy="0.33em">MsTCP40</text><text x="464.27" y="378.73" transform="rotate(21.17 464.27 378.73)" text-anchor="start" dy="0.33em">Gi<tspan dx="0.9">TCP23</tspan></text><text x="459.65" y="389.67" transform="rotate(24.61 459.65 389.67)" text-anchor="start" dy="0.33em">MsTCP31</text><text x="454.39" y="400.32" transform="rotate(28.04 454.39 400.32)" text-anchor="start" dy="0.33em">AtTCP10</text><text x="448.49" y="410.63" transform="rotate(31.47 448.49 410.63)" text-anchor="start" dy="0.33em">MsTCP24</text><text x="441.99" y="420.57" transform="rotate(34.91 441.99 420.57)" text-anchor="start" dy="0.33em">Gi<tspan dx="0.9">TCP5</tspan></text><text x="434.91" y="430.10" transform="rotate(38.34 434.91 430.10)" text-anchor="start" dy="0.33em">Gi<tspan dx="0.9">TCP20</tspan></text><text x="427.27" y="439.19" transform="rotate(41.77 427.27 439.19)" text-anchor="start" dy="0.33em">MsTCP35</text><text x="419.09" y="447.80" transform="rotate(45.21 419.09 447.80)" text-anchor="start" dy="0.33em">AtTCP19</text><text x="410.42" y="455.91" transform="rotate(48.64 410.42 455.91)" text-anchor="start" dy="0.33em">Gi<tspan dx="0.9">TCP21</tspan></text><text x="401.27" y="463.49" transform="rotate(52.07 401.27 463.49)" text-anchor="start" dy="0.33em">AtTCP17</text><text x="391.69" y="470.51" transform="rotate(55.51 391.69 470.51)" text-anchor="start" dy="0.33em">Gi<tspan dx="0.9">TCP11</tspan></text><text x="381.71" y="476.93" transform="rotate(58.94 381.71 476.93)" text-anchor="start" dy="0.33em">Gi<tspan dx="0.9">TCP10</tspan></text><text x="371.35" y="482.75" transform="rotate(62.37 371.35 482.75)" text-anchor="start" dy="0.33em">MsTCP6</text><text x="360.67" y="487.94" transform="rotate(65.81 360.67 487.94)" text-anchor="start" dy="0.33em">MsTCP14</text><text x="349.70" y="492.48" transform="rotate(69.24 349.70 492.48)" text-anchor="start" dy="0.33em">AtTCP12</text><text x="338.47" y="496.36" transform="rotate(72.67 338.47 496.36)" text-anchor="start" dy="0.33em">AtTCP20</text><text x="327.04" y="499.55" transform="rotate(76.11 327.04 499.55)" text-anchor="start" dy="0.33em">AtTCP7</text><text x="315.43" y="502.06" transform="rotate(79.54 315.43 502.06)" text-anchor="start" dy="0.33em">MsTCP33</text><text x="303.69" y="503.86" transform="rotate(82.98 303.69 503.86)" text-anchor="start" dy="0.33em">MsTCP28</text><text x="291.87" y="504.96" transform="rotate(86.41 291.87 504.96)" text-anchor="start" dy="0.33em">AtTCP4</text><text x="280.00" y="507.05" transform="rotate(269.84 280.00 507.05)" text-anchor="end" dy="0.33em">Gi<tspan dx="0.9">TCP17</tspan></text><text x="268.03" y="506.72" transform="rotate(273.28 268.03 506.72)" text-anchor="end" dy="0.33em">MsTCP39</text><text x="256.10" y="505.68" transform="rotate(276.71 256.10 505.68)" text-anchor="end" dy="0.33em">EuTCP6</text><text x="244.25" y="503.93" transform="rotate(280.14 244.25 503.93)" text-anchor="end" dy="0.33em">EuTCP12</text><text x="232.53" y="501.46" transform="rotate(283.58 232.53 501.46)" text-anchor="end" dy="0.33em">MsTCP19</text><text x="220.97" y="498.31" transform="rotate(287.01 220.97 498.31)" text-anchor="end" dy="0.33em">MsTCP21</text><text x="209.63" y="494.46" transform="rotate(290.44 209.63 494.46)" text-anchor="end" dy="0.33em">MsTCP36</text><text x="198.54" y="489.94" transform="rotate(293.88 198.54 489.94)" text-anchor="end" dy="0.33em">MsTCP23</text><text x="187.73" y="484.77" transform="rotate(297.31 187.73 484.77)" text-anchor="end" dy="0.33em">EuTCP4</text><text x="177.26" y="478.96" transform="rotate(300.74 177.26 478.96)" text-anchor="end" dy="0.33em">MsTCP2</text><text x="167.16" y="472.53" transform="rotate(304.18 167.16 472.53)" text-anchor="end" dy="0.33em">AtTCP1</text><text x="157.45" y="465.51" transform="rotate(307.61 157.45 465.51)" text-anchor="end" dy="0.33em">Gi<tspan dx="0.9">TCP12</tspan></text><text x="148.19" y="457.92" transform="rotate(311.04 148.19 457.92)" text-anchor="end" dy="0.33em">Gi<tspan dx="0.9">TCP24</tspan></text><text x="139.39" y="449.78" transform="rotate(314.48 139.39 449.78)" text-anchor="end" dy="0.33em">AtTCP2</text><text x="131.10" y="441.14" transform="rotate(317.91 131.10 441.14)" text-anchor="end" dy="0.33em">Gi<tspan dx="0.9">TCP14</tspan></text><text x="123.34" y="432.01" transform="rotate(321.34 123.34 432.01)" text-anchor="end" dy="0.33em">AtTCP18</text><text x="116.15" y="422.44" transform="rotate(324.78 116.15 422.44)" text-anchor="end" dy="0.33em">MsTCP34</text><text x="109.54" y="412.45" transform="rotate(328.21 109.54 412.45)" text-anchor="end" dy="0.33em">Gi<tspan dx="0.9">TCP4</tspan></text><text x="103.53" y="402.09" transform="rotate(331.64 103.53 402.09)" text-anchor="end" dy="0.33em">AtTCP22</text><text x="98.16" y="391.38" transform="rotate(335.08 98.16 391.38)" text-anchor="end" dy="0.33em">MsTCP10</text><text x="93.44" y="380.37" transform="rotate(338.51 93.44 380.37)" text-anchor="end" dy="0.33em">AtTCP3</text><text x="89.39" y="369.10" transform="rotate(341.95 89.39 369.10)" text-anchor="end" dy="0.33em">AtTCP6</text><text x="86.02" y="357.61" transform="rotate(345.38 86.02 357.61)" text-anchor="end" dy="0.33em">AtTCP13</text><text x="83.35" y="345.93" transform="rotate(348.81 83.35 345.93)" text-anchor="end" dy="0.33em">MsTCP32</text><text x="81.38" y="334.12" transform="rotate(352.25 81.38 334.12)" text-anchor="end" dy="0.33em">Gi<tspan dx="0.9">TCP7</tspan></text><text x="80.12" y="322.21" transform="rotate(355.68 80.12 322.21)" text-anchor="end" dy="0.33em">Gi<tspan dx="0.9">TCP9</tspan></text><text x="79.57" y="310.24" transform="rotate(359.11 79.57 310.24)" text-anchor="end" dy="0.33em">MsTCP4</text><text x="79.75" y="298.27" transform="rotate(362.55 79.75 298.27)" text-anchor="end" dy="0.33em">MsTCP38</text><text x="80.64" y="286.32" transform="rotate(365.98 80.64 286.32)" text-anchor="end" dy="0.33em">AtTCP21</text><text x="82.24" y="274.45" transform="rotate(369.41 82.24 274.45)" text-anchor="end" dy="0.33em">AtTCP5</text><text x="84.55" y="262.70" transform="rotate(372.85 84.55 262.70)" text-anchor="end" dy="0.33em">AtTCP23</text><text x="87.57" y="251.11" transform="rotate(376.28 87.57 251.11)" text-anchor="end" dy="0.33em">EuTCP14</text><text x="91.27" y="239.72" transform="rotate(379.71 91.27 239.72)" text-anchor="end" dy="0.33em">MsTCP15</text><text x="95.64" y="228.57" transform="rotate(383.15 95.64 228.57)" text-anchor="end" dy="0.33em">EuTCP2</text><text x="100.68" y="217.70" transform="rotate(386.58 100.68 217.70)" text-anchor="end" dy="0.33em">MsTCP8</text><text x="106.36" y="207.16" transform="rotate(390.01 106.36 207.16)" text-anchor="end" dy="0.33em">MsTCP17</text><text x="112.66" y="196.97" transform="rotate(393.45 112.66 196.97)" text-anchor="end" dy="0.33em">Gi<tspan dx="0.9">TCP15</tspan></text><text x="119.55" y="187.18" transform="rotate(396.88 119.55 187.18)" text-anchor="end" dy="0.33em">MsTCP11</text><text x="127.03" y="177.82" transform="rotate(400.31 127.03 177.82)" text-anchor="end" dy="0.33em">EuTCP8</text><text x="135.05" y="168.92" transform="rotate(403.75 135.05 168.92)" text-anchor="end" dy="0.33em">Gi<tspan dx="0.9">TCP22</tspan></text><text x="143.58" y="160.52" transform="rotate(407.18 143.58 160.52)" text-anchor="end" dy="0.33em">Gi<tspan dx="0.9">TCP6</tspan></text><text x="152.61" y="152.65" transform="rotate(410.62 152.61 152.65)" text-anchor="end" dy="0.33em">Gi<tspan dx="0.9">TCP1</tspan></text><text x="162.09" y="145.33" transform="rotate(414.05 162.09 145.33)" text-anchor="end" dy="0.33em">MsTCP1</text><text x="171.99" y="138.59" transform="rotate(417.48 171.99 138.59)" text-anchor="end" dy="0.33em">AtTCP14</text><text x="182.28" y="132.46" transform="rotate(420.92 182.28 132.46)" text-anchor="end" dy="0.33em">Gi<tspan dx="0.9">TCP19</tspan></text><text x="192.92" y="126.95" transform="rotate(424.35 192.92 126.95)" text-anchor="end" dy="0.33em">AtTCP9</text><text x="203.86" y="122.09" transform="rotate(427.78 203.86 122.09)" text-anchor="end" dy="0.33em">Gi<tspan dx="0.9">TCP18</tspan></text><text x="215.08" y="117.90" transform="rotate(431.22 215.08 117.90)" text-anchor="end" dy="0.33em">MsTCP25</text><text x="226.53" y="114.38" transform="rotate(434.65 226.53 114.38)" text-anchor="end" dy="0.33em">AtTCP11</text><text x="238.17" y="111.56" transform="rotate(438.08 238.17 111.56)" text-anchor="end" dy="0.33em">Gi<tspan dx="0.9">TCP3</tspan></text></g>
<g font-family="'Liberation Serif', serif" font-weight="bold" font-size="11.3" fill="#111"><text x="370" y="57.7" text-anchor="middle" dy="0.33em" transform="rotate(19 370 57.7)">CYC/TB1</text><text x="535.7" y="362.8" text-anchor="middle" dy="0.33em" transform="rotate(-81.4 535.7 362.8)">Class II CIN</text><text x="16" y="359.5" text-anchor="middle" dy="0.33em" transform="rotate(78.2 16 359.5)">Class I PCF</text></g>
<text x="563.3" y="19.7" font-family="'Liberation Serif', serif" font-weight="bold" font-size="16.2" fill="#111">Species</text>
<rect x="560.6" y="29.8" width="10.2" height="10" fill="#7cc576"/>
<path d="M566.20,48.20L568.82,54.50L575.62,55.04L570.44,59.48L572.02,66.11L566.20,62.55L560.38,66.11L561.96,59.48L556.78,55.04L563.58,54.50Z" fill="#ee5a2f"/>
<circle cx="566.1" cy="82.0" r="5.8" fill="#155fb0"/>
<path d="M566.3,96.3L573.8,108.2L558.8,108.2Z" fill="#10291d"/>
<g font-family="'Liberation Serif', serif" font-style="italic" font-size="12.2" fill="#111"><text x="580.3" y="38.6">Eucommia ulmoides Oliver</text><text x="580.3" y="61.9">Medicago sativa L.</text><text x="580.3" y="85.4">Glycyrrhiza inflata Bat.</text><text x="580.3" y="107.9">Arabidopsis thaliana</text></g>
</svg>
</body></html>
